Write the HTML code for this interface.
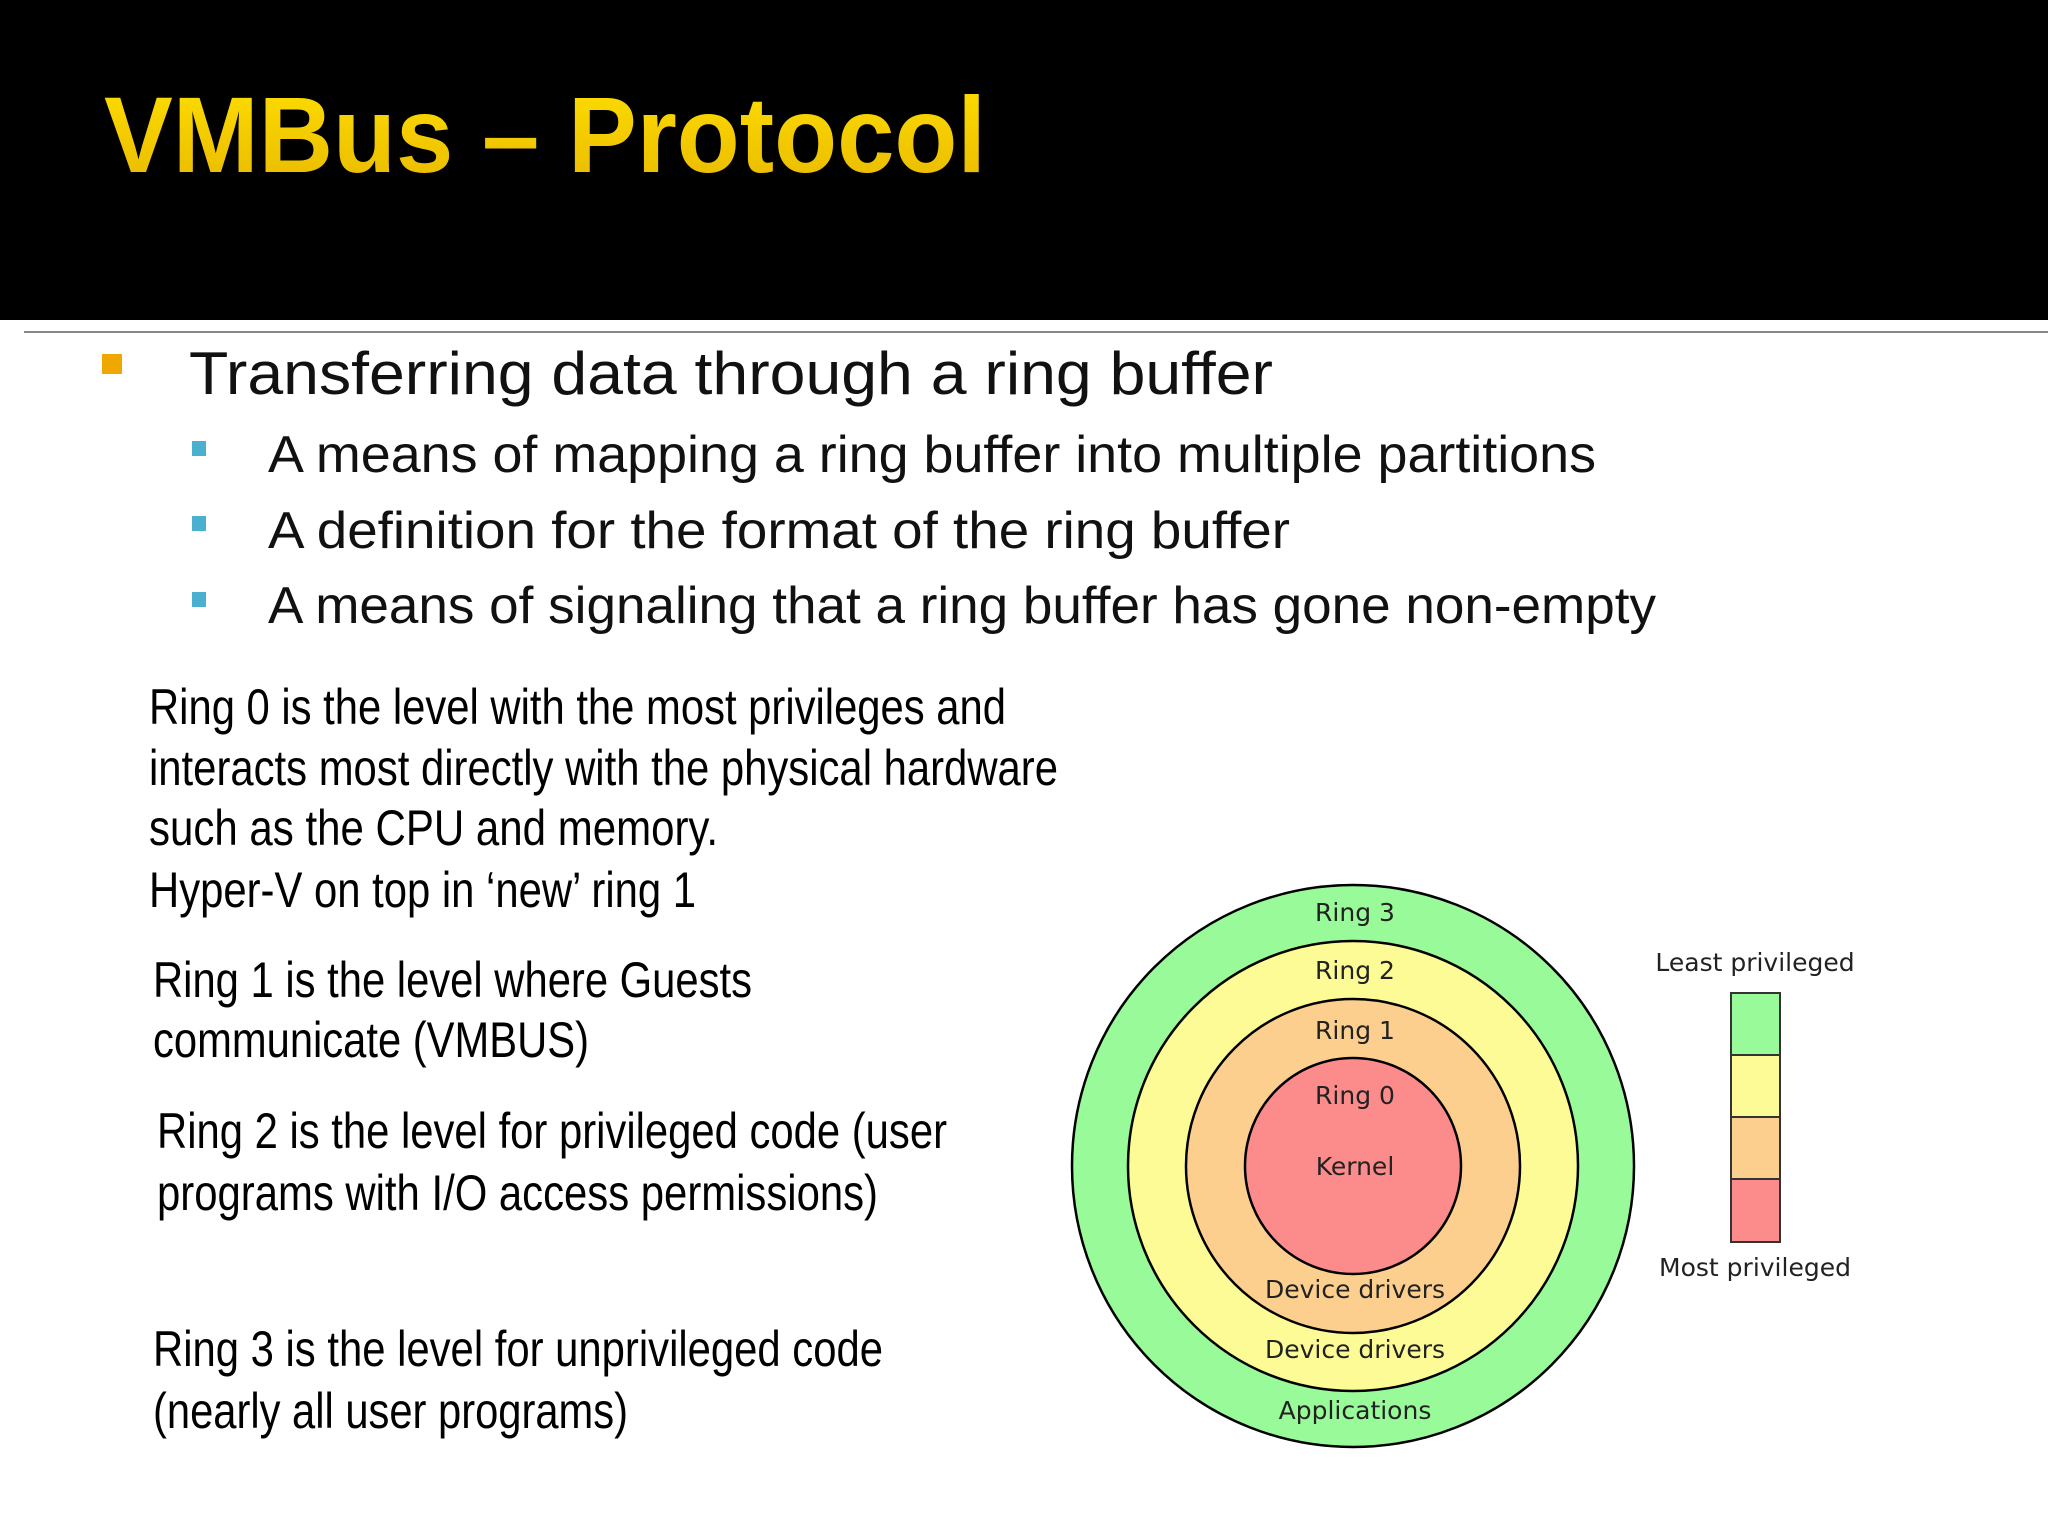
<!DOCTYPE html>
<html><head><meta charset="utf-8"><style>html,body{margin:0;padding:0;background:#fff}svg{display:block}</style></head>
<body>
<svg width="2048" height="1536" viewBox="0 0 2048 1536" xmlns="http://www.w3.org/2000/svg">
<rect x="0" y="0" width="2048" height="1536" fill="#fff"/>
<rect x="0" y="0" width="2048" height="320" fill="#000"/>
<defs><linearGradient id="tg" x1="0" y1="0" x2="0" y2="1"><stop offset="0" stop-color="#ffe000"/><stop offset="1" stop-color="#e8b800"/></linearGradient></defs>
<text x="104" y="172" font-family="Liberation Sans, sans-serif" font-weight="bold" font-size="108" fill="url(#tg)" textLength="882" lengthAdjust="spacingAndGlyphs">VMBus – Protocol</text>
<line x1="24" y1="332" x2="2048" y2="332" stroke="#888" stroke-width="2"/>
<rect x="102" y="354" width="20" height="20" fill="#f0a800"/>
<g font-family="Liberation Sans, sans-serif" fill="#111">
<text x="189" y="394" font-size="60" textLength="1084" lengthAdjust="spacingAndGlyphs">Transferring data through a ring buffer</text>
<rect x="192" y="441" width="14" height="15" fill="#4ab0d0"/>
<rect x="192" y="516" width="14" height="15" fill="#4ab0d0"/>
<rect x="192" y="592" width="14" height="15" fill="#4ab0d0"/>
<text x="268" y="472" font-size="52" textLength="1328" lengthAdjust="spacingAndGlyphs">A means of mapping a ring buffer into multiple partitions</text>
<text x="268" y="548" font-size="52" textLength="1022" lengthAdjust="spacingAndGlyphs">A definition for the format of the ring buffer</text>
<text x="268" y="623" font-size="52" textLength="1388" lengthAdjust="spacingAndGlyphs">A means of signaling that a ring buffer has gone non-empty</text>
</g>
<g font-family="Liberation Sans, sans-serif" fill="#000" font-size="50">
<text x="149" y="724" textLength="857" lengthAdjust="spacingAndGlyphs">Ring 0 is the level with the most privileges and</text>
<text x="149" y="785" textLength="909" lengthAdjust="spacingAndGlyphs">interacts most directly with the physical hardware</text>
<text x="149" y="845" textLength="569" lengthAdjust="spacingAndGlyphs">such as the CPU and memory.</text>
<text x="149" y="907" textLength="547" lengthAdjust="spacingAndGlyphs">Hyper-V on top in ‘new’ ring 1</text>
<text x="153" y="997" textLength="599" lengthAdjust="spacingAndGlyphs">Ring 1 is the level where Guests</text>
<text x="153" y="1057" textLength="436" lengthAdjust="spacingAndGlyphs">communicate (VMBUS)</text>
<text x="157" y="1148" textLength="790" lengthAdjust="spacingAndGlyphs">Ring 2 is the level for privileged code (user</text>
<text x="157" y="1210" textLength="721" lengthAdjust="spacingAndGlyphs">programs with I/O access permissions)</text>
<text x="153" y="1366" textLength="730" lengthAdjust="spacingAndGlyphs">Ring 3 is the level for unprivileged code</text>
<text x="153" y="1428" textLength="475" lengthAdjust="spacingAndGlyphs">(nearly all user programs)</text>
</g>
<g stroke="#000" stroke-width="2.5">
<circle cx="1353" cy="1166" r="281" fill="#98fa98"/>
<circle cx="1353" cy="1166" r="225" fill="#fdfb96"/>
<circle cx="1353" cy="1166" r="167" fill="#fdcf8e"/>
<circle cx="1353" cy="1166" r="108" fill="#fc8c8c"/>
</g>
<g font-family="DejaVu Sans, sans-serif" font-size="25" fill="#222" text-anchor="middle">
<text x="1355" y="921">Ring 3</text>
<text x="1355" y="979">Ring 2</text>
<text x="1355" y="1039">Ring 1</text>
<text x="1355" y="1104">Ring 0</text>
<text x="1355" y="1175">Kernel</text>
<text x="1355" y="1298">Device drivers</text>
<text x="1355" y="1358">Device drivers</text>
<text x="1355" y="1419">Applications</text>
<text x="1755" y="971">Least privileged</text>
<text x="1755" y="1276">Most privileged</text>
</g>
<g stroke="#333" stroke-width="2">
<rect x="1731" y="993" width="49" height="62" fill="#98fa98"/>
<rect x="1731" y="1055" width="49" height="62" fill="#fdfb96"/>
<rect x="1731" y="1117" width="49" height="62" fill="#fdcf8e"/>
<rect x="1731" y="1179" width="49" height="63" fill="#fc8c8c"/>
</g>
</svg>
</body></html>
